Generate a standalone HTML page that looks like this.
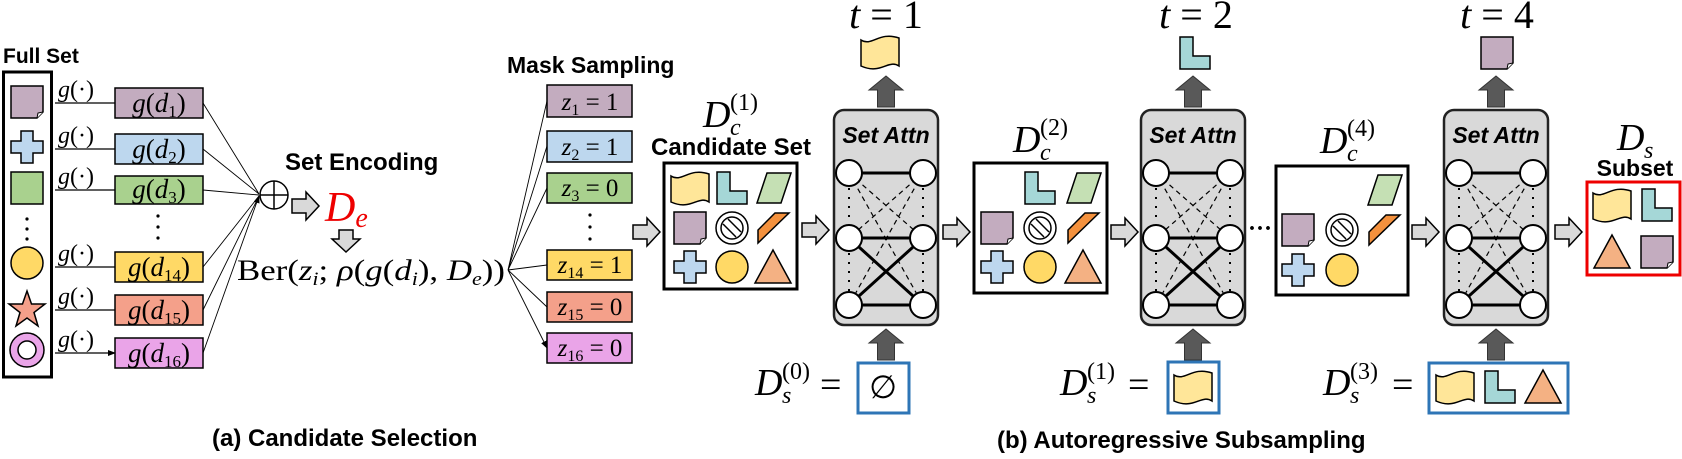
<!DOCTYPE html>
<html><head><meta charset="utf-8"><style>
html,body{margin:0;padding:0;background:#fff;}
svg{display:block;}
.b{font-family:"Liberation Sans",sans-serif;font-weight:bold;}
.m{font-family:"Liberation Serif",serif;}
.i{font-style:italic;}
</style></head><body>
<svg width="1682" height="459" viewBox="0 0 1682 459" xmlns="http://www.w3.org/2000/svg">
<defs>
<marker id="ah" markerWidth="8" markerHeight="8" refX="7" refY="4" orient="auto" markerUnits="userSpaceOnUse"><path d="M0,1L8,4L0,7Z" fill="#000"/></marker>
<g id="note"><path d="M-16,-16H16V10L10,16H-16Z" fill="#c3acbf" stroke="#000" stroke-width="1.5"/><path d="M16,10L11,11L10,16" fill="#fff" stroke="#000" stroke-width="1"/></g>
<g id="cross"><path d="M-6,-16H6V-6H16V6H6V16H-6V6H-16V-6H-6Z" fill="#bdd7ee" stroke="#000" stroke-width="1.5"/></g>
<g id="sq"><rect x="-16" y="-16" width="32" height="32" fill="#a9d18e" stroke="#000" stroke-width="1.5"/></g>
<g id="circ"><circle r="16" fill="#ffd966" stroke="#000" stroke-width="1.5"/></g>
<g id="star"><path d="M0,-19L4.5,-6H18L7,2.5L11,16L0,8L-11,16L-7,2.5L-18,-6H-4.5Z" fill="#f4a08a" stroke="#000" stroke-width="1.5"/></g>
<g id="donut"><circle r="17" fill="#eaa4e8" stroke="#000" stroke-width="1.5"/><circle r="9" fill="#fff" stroke="#000" stroke-width="1.5"/></g>
<g id="wave"><path d="M-19,-12C-8,-5 -1,-21 19,-14V14C8,7 1,23 -19,14Z" fill="#ffe699" stroke="#000" stroke-width="1.5"/></g>
<g id="L"><path d="M-15,-16H-2V3H15V16H-15Z" fill="#a5d7d7" stroke="#000" stroke-width="1.5"/></g>
<g id="para"><path d="M-6,-15H18L8,15H-16Z" fill="#c5e0b4" stroke="#000" stroke-width="1.5"/></g>
<g id="forb"><circle r="16" fill="#fff" stroke="#000" stroke-width="1.5"/><circle r="11" fill="none" stroke="#000" stroke-width="1.5"/><path d="M-9,-4L4,9M-4,-9L9,4" stroke="#000" stroke-width="1.5"/></g>
<g id="orng"><path d="M-15,15L-15,2L2,-15L16,-15Z" fill="#f4913d" stroke="#000" stroke-width="1.5"/></g>
<g id="tri"><path d="M0,-17L18,16H-18Z" fill="#f4b183" stroke="#000" stroke-width="1.5"/></g>
<g id="hr"><path d="M0,-7H14V-14L27,0L14,14V7H0Z" fill="#d9d9d9" stroke="#000" stroke-width="1.5"/></g>
<g id="du"><path d="M-8.5,0V-17H-17L0,-31L17,-17H8.5V0Z" fill="#595959" stroke="#333" stroke-width="1"/></g>
<g id="attn">
<rect x="0" y="110" width="104" height="215" rx="10" fill="#d9d9d9" stroke="#222" stroke-width="2.5"/>
<text x="52" y="143" text-anchor="middle" class="b i" font-size="23">Set Attn</text>
<g stroke="#000" stroke-width="1.2" stroke-dasharray="5,4" fill="none">
<path d="M15,173L89,238M15,173L89,305M89,173L15,238M89,173L15,305"/>
</g>
<g stroke="#000" stroke-width="2" stroke-dasharray="2,7" fill="none"><path d="M15,188V224M15,253V291M89,188V224M89,253V291"/></g>
<g stroke="#000" stroke-width="3" fill="none"><path d="M15,173H89M15,238H89M15,305H89M15,238L89,305M15,305L89,238"/></g>
<g fill="#fff" stroke="#000" stroke-width="2">
<circle cx="15" cy="173" r="13"/><circle cx="89" cy="173" r="13"/><circle cx="15" cy="238" r="13"/><circle cx="89" cy="238" r="13"/><circle cx="15" cy="305" r="13"/><circle cx="89" cy="305" r="13"/>
</g>
<use href="#du" x="52" y="107"/>
<use href="#du" x="52" y="360"/>
</g>
</defs>

<!-- Full set -->
<text x="3" y="63" class="b" font-size="21">Full Set</text>
<rect x="3.5" y="72" width="48" height="305" fill="none" stroke="#000" stroke-width="3"/>
<use href="#note" x="27" y="102"/>
<use href="#cross" x="27" y="147"/>
<use href="#sq" x="27" y="188"/>
<g fill="#000"><circle cx="27" cy="219" r="1.6"/><circle cx="27" cy="229" r="1.6"/><circle cx="27" cy="239" r="1.6"/></g>
<use href="#circ" x="27" y="263"/>
<use href="#star" x="27" y="310"/>
<use href="#donut" x="27" y="350"/>

<g stroke="#000" stroke-width="1.3" marker-end="url(#ah)">
<path d="M55,103H115M55,149H115M55,190H115M55,267H115M55,310H115M55,353H115"/>
</g>
<g class="m" font-size="24">
<text x="58" y="97"><tspan class="i">g</tspan>(·)</text>
<text x="58" y="143"><tspan class="i">g</tspan>(·)</text>
<text x="58" y="184"><tspan class="i">g</tspan>(·)</text>
<text x="58" y="261"><tspan class="i">g</tspan>(·)</text>
<text x="58" y="304"><tspan class="i">g</tspan>(·)</text>
<text x="58" y="347"><tspan class="i">g</tspan>(·)</text>
</g>
<g stroke="#000" stroke-width="1.5">
<rect x="115" y="88" width="88" height="30" fill="#c3acbf"/>
<rect x="115" y="134" width="88" height="30" fill="#bdd7ee"/>
<rect x="115" y="176" width="88" height="28" fill="#a9d18e"/>
<rect x="115" y="252" width="88" height="30" fill="#ffd966"/>
<rect x="115" y="295" width="88" height="30" fill="#f4a08a"/>
<rect x="115" y="338" width="88" height="30" fill="#eaa4e8"/>
</g>
<g class="m" font-size="27" text-anchor="middle">
<text x="159" y="112"><tspan class="i">g</tspan>(<tspan class="i">d</tspan><tspan font-size="17" dy="5">1</tspan><tspan dy="-5">)</tspan></text>
<text x="159" y="158"><tspan class="i">g</tspan>(<tspan class="i">d</tspan><tspan font-size="17" dy="5">2</tspan><tspan dy="-5">)</tspan></text>
<text x="159" y="198"><tspan class="i">g</tspan>(<tspan class="i">d</tspan><tspan font-size="17" dy="5">3</tspan><tspan dy="-5">)</tspan></text>
<text x="159" y="276"><tspan class="i">g</tspan>(<tspan class="i">d</tspan><tspan font-size="17" dy="5">14</tspan><tspan dy="-5">)</tspan></text>
<text x="159" y="319"><tspan class="i">g</tspan>(<tspan class="i">d</tspan><tspan font-size="17" dy="5">15</tspan><tspan dy="-5">)</tspan></text>
<text x="159" y="362"><tspan class="i">g</tspan>(<tspan class="i">d</tspan><tspan font-size="17" dy="5">16</tspan><tspan dy="-5">)</tspan></text>
</g>
<g fill="#000"><circle cx="158" cy="216" r="1.6"/><circle cx="158" cy="227" r="1.6"/><circle cx="158" cy="238" r="1.6"/></g>
<g stroke="#000" stroke-width="0.9" marker-end="url(#ah)">
<path d="M203,103L259,194M203,149L259,194M203,190L259,195M203,267L259,196M203,310L259,196M203,353L259,196"/>
</g>
<circle cx="274" cy="195" r="14" fill="#fff" stroke="#000" stroke-width="1.5"/>
<path d="M260,195H288M274,181V209" stroke="#000" stroke-width="1.5"/>

<text x="285" y="170" class="b" font-size="24">Set Encoding</text>
<use href="#hr" x="292" y="206"/>
<text x="325" y="221" class="m i" font-size="42" fill="#e00">D<tspan font-size="28" dy="6">e</tspan></text>
<path d="M339,230H353V239H360L346,252L332,239H339Z" fill="#d9d9d9" stroke="#000" stroke-width="1.5"/>
<text x="237" y="280" class="m" font-size="30" textLength="268" lengthAdjust="spacingAndGlyphs">Ber(<tspan class="i">z</tspan><tspan font-size="19" dy="5" class="i">i</tspan><tspan dy="-5">; </tspan><tspan class="i">ρ</tspan>(<tspan class="i">g</tspan>(<tspan class="i">d</tspan><tspan font-size="19" dy="5" class="i">i</tspan><tspan dy="-5">), </tspan><tspan class="i">D</tspan><tspan font-size="19" dy="5" class="i">e</tspan><tspan dy="-5">))</tspan></text>

<!-- mask sampling -->
<text x="507" y="73" class="b" font-size="23">Mask Sampling</text>
<g stroke="#000" stroke-width="0.9" marker-end="url(#ah)">
<path d="M508,270L547,101M508,270L547,146M508,270L547,188M508,270L547,265M508,270L547,307M508,270L547,348"/>
</g>
<g stroke="#000" stroke-width="1.5">
<rect x="547" y="85" width="85" height="32" fill="#c3acbf"/>
<rect x="547" y="131" width="85" height="31" fill="#bdd7ee"/>
<rect x="547" y="173" width="85" height="30" fill="#a9d18e"/>
<rect x="547" y="250" width="85" height="30" fill="#ffd966"/>
<rect x="547" y="292" width="85" height="30" fill="#f4a08a"/>
<rect x="547" y="333" width="85" height="30" fill="#eaa4e8"/>
</g>
<g class="m" font-size="25" text-anchor="middle">
<text x="590" y="110"><tspan class="i">z</tspan><tspan font-size="16" dy="5">1</tspan><tspan dy="-5"> = 1</tspan></text>
<text x="590" y="155"><tspan class="i">z</tspan><tspan font-size="16" dy="5">2</tspan><tspan dy="-5"> = 1</tspan></text>
<text x="590" y="196"><tspan class="i">z</tspan><tspan font-size="16" dy="5">3</tspan><tspan dy="-5"> = 0</tspan></text>
<text x="590" y="273"><tspan class="i">z</tspan><tspan font-size="16" dy="5">14</tspan><tspan dy="-5"> = 1</tspan></text>
<text x="590" y="315"><tspan class="i">z</tspan><tspan font-size="16" dy="5">15</tspan><tspan dy="-5"> = 0</tspan></text>
<text x="590" y="356"><tspan class="i">z</tspan><tspan font-size="16" dy="5">16</tspan><tspan dy="-5"> = 0</tspan></text>
</g>
<g fill="#000"><circle cx="590" cy="215" r="1.6"/><circle cx="590" cy="227" r="1.6"/><circle cx="590" cy="239" r="1.6"/></g>
<use href="#hr" x="633" y="232"/>

<!-- candidate set -->
<g class="m" font-size="38">
<text x="703" y="127" class="i">D</text><text x="730" y="135" class="i" font-size="24">c</text><text x="730" y="110" font-size="24">(1)</text>
</g>
<text x="731" y="155" class="b" font-size="24" text-anchor="middle">Candidate Set</text>
<rect x="664" y="163" width="133" height="126" fill="#fff" stroke="#000" stroke-width="3"/>
<use href="#wave" x="690" y="188"/><use href="#L" x="732" y="188"/><use href="#para" x="773" y="188"/>
<use href="#note" x="690" y="228"/><use href="#forb" x="732" y="228"/><use href="#orng" x="773" y="228"/>
<use href="#cross" x="690" y="267"/><use href="#circ" x="732" y="267"/><use href="#tri" x="773" y="267"/>
<use href="#hr" x="802" y="230"/>

<!-- attn 1 -->
<use href="#attn" x="834" y="0"/>
<text x="886" y="28" class="m" font-size="40" text-anchor="middle"><tspan class="i">t</tspan> = 1</text>
<use href="#wave" x="880" y="52"/>
<g class="m" font-size="38">
<text x="755" y="395" class="i">D</text><text x="782" y="403" class="i" font-size="24">s</text><text x="782" y="379" font-size="24">(0)</text><text x="820" y="397">=</text>
</g>
<rect x="858" y="363" width="51" height="50" fill="#fff" stroke="#2e75b6" stroke-width="3"/>
<text x="883" y="398" class="m" font-size="32" text-anchor="middle">∅</text>
<use href="#hr" x="943" y="232"/>

<!-- D_c^(2) -->
<g class="m" font-size="38">
<text x="1013" y="152" class="i">D</text><text x="1040" y="160" class="i" font-size="24">c</text><text x="1040" y="135" font-size="24">(2)</text>
</g>
<rect x="974" y="163" width="133" height="130" fill="#fff" stroke="#000" stroke-width="3"/>
<use href="#L" x="1040" y="188"/><use href="#para" x="1083" y="188"/>
<use href="#note" x="997" y="228"/><use href="#forb" x="1040" y="228"/><use href="#orng" x="1083" y="228"/>
<use href="#cross" x="997" y="267"/><use href="#circ" x="1040" y="267"/><use href="#tri" x="1083" y="267"/>
<use href="#hr" x="1111" y="232"/>

<!-- attn 2 -->
<use href="#attn" x="1141" y="0"/>
<text x="1196" y="28" class="m" font-size="40" text-anchor="middle"><tspan class="i">t</tspan> = 2</text>
<use href="#L" x="1195" y="53"/>
<g class="m" font-size="38">
<text x="1060" y="395" class="i">D</text><text x="1087" y="403" class="i" font-size="24">s</text><text x="1087" y="379" font-size="24">(1)</text><text x="1128" y="397">=</text>
</g>
<rect x="1168" y="362" width="51" height="51" fill="#fff" stroke="#2e75b6" stroke-width="3"/>
<use href="#wave" x="1193" y="387"/>
<text x="1260" y="236" class="m" font-size="24" text-anchor="middle" font-weight="bold">···</text>

<!-- D_c^(4) -->
<g class="m" font-size="38">
<text x="1320" y="153" class="i">D</text><text x="1347" y="161" class="i" font-size="24">c</text><text x="1347" y="136" font-size="24">(4)</text>
</g>
<rect x="1276" y="166" width="132" height="129" fill="#fff" stroke="#000" stroke-width="3"/>
<use href="#para" x="1384" y="190"/>
<use href="#note" x="1298" y="230"/><use href="#forb" x="1342" y="230"/><use href="#orng" x="1384" y="230"/>
<use href="#cross" x="1298" y="270"/><use href="#circ" x="1342" y="270"/>
<use href="#hr" x="1412" y="232"/>

<!-- attn 3 -->
<use href="#attn" x="1444" y="0"/>
<text x="1497" y="28" class="m" font-size="40" text-anchor="middle"><tspan class="i">t</tspan> = 4</text>
<use href="#note" x="1497" y="53"/>
<g class="m" font-size="38">
<text x="1323" y="395" class="i">D</text><text x="1350" y="403" class="i" font-size="24">s</text><text x="1350" y="379" font-size="24">(3)</text><text x="1392" y="397">=</text>
</g>
<rect x="1429" y="363" width="139" height="50" fill="#fff" stroke="#2e75b6" stroke-width="3"/>
<use href="#wave" x="1455" y="387"/><use href="#L" x="1500" y="387"/><use href="#tri" x="1543" y="387"/>
<use href="#hr" x="1555" y="232"/>

<!-- subset -->
<g class="m" font-size="38">
<text x="1617" y="150" class="i">D</text><text x="1644" y="158" class="i" font-size="24">s</text>
</g>
<text x="1635" y="176" class="b" font-size="23" text-anchor="middle">Subset</text>
<rect x="1587" y="182" width="93" height="93" fill="#fff" stroke="#e00" stroke-width="3"/>
<use href="#wave" x="1612" y="205"/><use href="#L" x="1657" y="205"/>
<use href="#tri" x="1612" y="252"/><use href="#note" x="1657" y="252"/>

<text x="212" y="446" class="b" font-size="24">(a) Candidate Selection</text>
<text x="997" y="448" class="b" font-size="24">(b) Autoregressive Subsampling</text>
</svg>
</body></html>
